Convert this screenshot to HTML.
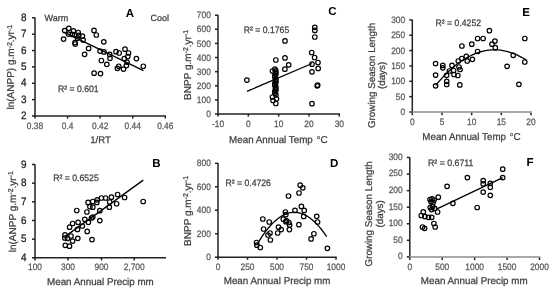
<!DOCTYPE html>
<html><head><meta charset="utf-8"><style>
html,body{margin:0;padding:0;background:#fff;width:550px;height:288px;overflow:hidden}
svg{display:block;font-family:"Liberation Sans", sans-serif;text-rendering:geometricPrecision;filter:grayscale(100%) blur(0.3px)}
</style></head><body>
<svg width="550" height="288" viewBox="0 0 550 288">
<rect width="550" height="288" fill="#fff"/>
<line x1="35" y1="17.6" x2="35" y2="116.75" stroke="#222222" stroke-width="1.5"/>
<line x1="32" y1="17.8" x2="35" y2="17.8" stroke="#222222" stroke-width="1.5"/>
<line x1="32" y1="34.17" x2="35" y2="34.17" stroke="#222222" stroke-width="1.5"/>
<line x1="32" y1="50.53" x2="35" y2="50.53" stroke="#222222" stroke-width="1.5"/>
<line x1="32" y1="66.9" x2="35" y2="66.9" stroke="#222222" stroke-width="1.5"/>
<line x1="32" y1="83.27" x2="35" y2="83.27" stroke="#222222" stroke-width="1.5"/>
<line x1="32" y1="99.63" x2="35" y2="99.63" stroke="#222222" stroke-width="1.5"/>
<line x1="32" y1="116.0" x2="35" y2="116.0" stroke="#222222" stroke-width="1.5"/>
<text x="26.4" y="21.0" font-size="10.8" fill="#1a1a1a" stroke="#1a1a1a" stroke-width="0.25" text-anchor="end" font-weight="normal" textLength="5.52" lengthAdjust="spacingAndGlyphs">8</text>
<text x="26.4" y="37.37" font-size="10.8" fill="#1a1a1a" stroke="#1a1a1a" stroke-width="0.25" text-anchor="end" font-weight="normal" textLength="5.52" lengthAdjust="spacingAndGlyphs">7</text>
<text x="26.4" y="53.73" font-size="10.8" fill="#1a1a1a" stroke="#1a1a1a" stroke-width="0.25" text-anchor="end" font-weight="normal" textLength="5.52" lengthAdjust="spacingAndGlyphs">6</text>
<text x="26.4" y="70.1" font-size="10.8" fill="#1a1a1a" stroke="#1a1a1a" stroke-width="0.25" text-anchor="end" font-weight="normal" textLength="5.52" lengthAdjust="spacingAndGlyphs">5</text>
<text x="26.4" y="86.47" font-size="10.8" fill="#1a1a1a" stroke="#1a1a1a" stroke-width="0.25" text-anchor="end" font-weight="normal" textLength="5.52" lengthAdjust="spacingAndGlyphs">4</text>
<text x="26.4" y="102.83" font-size="10.8" fill="#1a1a1a" stroke="#1a1a1a" stroke-width="0.25" text-anchor="end" font-weight="normal" textLength="5.52" lengthAdjust="spacingAndGlyphs">3</text>
<text x="26.4" y="119.2" font-size="10.8" fill="#1a1a1a" stroke="#1a1a1a" stroke-width="0.25" text-anchor="end" font-weight="normal" textLength="5.52" lengthAdjust="spacingAndGlyphs">2</text>
<line x1="34.25" y1="116" x2="166.05" y2="116" stroke="#222222" stroke-width="1.5"/>
<line x1="35.0" y1="116" x2="35.0" y2="118.6" stroke="#222222" stroke-width="1.5"/>
<line x1="67.58" y1="116" x2="67.58" y2="118.6" stroke="#222222" stroke-width="1.5"/>
<line x1="100.15" y1="116" x2="100.15" y2="118.6" stroke="#222222" stroke-width="1.5"/>
<line x1="132.73" y1="116" x2="132.73" y2="118.6" stroke="#222222" stroke-width="1.5"/>
<line x1="165.3" y1="116" x2="165.3" y2="118.6" stroke="#222222" stroke-width="1.5"/>
<text x="35.0" y="128.9" font-size="9.3" fill="#595959" stroke="#595959" stroke-width="0.25" text-anchor="middle" font-weight="normal" textLength="16.29" lengthAdjust="spacingAndGlyphs">0.38</text>
<text x="67.58" y="128.9" font-size="9.3" fill="#595959" stroke="#595959" stroke-width="0.25" text-anchor="middle" font-weight="normal" textLength="11.63" lengthAdjust="spacingAndGlyphs">0.4</text>
<text x="100.15" y="128.9" font-size="9.3" fill="#595959" stroke="#595959" stroke-width="0.25" text-anchor="middle" font-weight="normal" textLength="16.29" lengthAdjust="spacingAndGlyphs">0.42</text>
<text x="132.73" y="128.9" font-size="9.3" fill="#595959" stroke="#595959" stroke-width="0.25" text-anchor="middle" font-weight="normal" textLength="16.29" lengthAdjust="spacingAndGlyphs">0.44</text>
<text x="165.3" y="128.9" font-size="9.3" fill="#595959" stroke="#595959" stroke-width="0.25" text-anchor="middle" font-weight="normal" textLength="16.29" lengthAdjust="spacingAndGlyphs">0.46</text>
<line x1="35" y1="164.3" x2="35" y2="258.55" stroke="#222222" stroke-width="1.5"/>
<line x1="32" y1="164.5" x2="35" y2="164.5" stroke="#222222" stroke-width="1.5"/>
<line x1="32" y1="183.16" x2="35" y2="183.16" stroke="#222222" stroke-width="1.5"/>
<line x1="32" y1="201.82" x2="35" y2="201.82" stroke="#222222" stroke-width="1.5"/>
<line x1="32" y1="220.48" x2="35" y2="220.48" stroke="#222222" stroke-width="1.5"/>
<line x1="32" y1="239.14" x2="35" y2="239.14" stroke="#222222" stroke-width="1.5"/>
<line x1="32" y1="257.8" x2="35" y2="257.8" stroke="#222222" stroke-width="1.5"/>
<text x="26.4" y="167.7" font-size="10.8" fill="#1a1a1a" stroke="#1a1a1a" stroke-width="0.25" text-anchor="end" font-weight="normal" textLength="5.52" lengthAdjust="spacingAndGlyphs">9</text>
<text x="26.4" y="186.36" font-size="10.8" fill="#1a1a1a" stroke="#1a1a1a" stroke-width="0.25" text-anchor="end" font-weight="normal" textLength="5.52" lengthAdjust="spacingAndGlyphs">8</text>
<text x="26.4" y="205.02" font-size="10.8" fill="#1a1a1a" stroke="#1a1a1a" stroke-width="0.25" text-anchor="end" font-weight="normal" textLength="5.52" lengthAdjust="spacingAndGlyphs">7</text>
<text x="26.4" y="223.68" font-size="10.8" fill="#1a1a1a" stroke="#1a1a1a" stroke-width="0.25" text-anchor="end" font-weight="normal" textLength="5.52" lengthAdjust="spacingAndGlyphs">6</text>
<text x="26.4" y="242.34" font-size="10.8" fill="#1a1a1a" stroke="#1a1a1a" stroke-width="0.25" text-anchor="end" font-weight="normal" textLength="5.52" lengthAdjust="spacingAndGlyphs">5</text>
<text x="26.4" y="261.0" font-size="10.8" fill="#1a1a1a" stroke="#1a1a1a" stroke-width="0.25" text-anchor="end" font-weight="normal" textLength="5.52" lengthAdjust="spacingAndGlyphs">4</text>
<line x1="34.25" y1="257.8" x2="166.05" y2="257.8" stroke="#222222" stroke-width="1.5"/>
<line x1="35" y1="257.8" x2="35" y2="260.40000000000003" stroke="#222222" stroke-width="1.5"/>
<line x1="68" y1="257.8" x2="68" y2="260.40000000000003" stroke="#222222" stroke-width="1.5"/>
<line x1="101.5" y1="257.8" x2="101.5" y2="260.40000000000003" stroke="#222222" stroke-width="1.5"/>
<line x1="134.2" y1="257.8" x2="134.2" y2="260.40000000000003" stroke="#222222" stroke-width="1.5"/>
<text x="35" y="269.8" font-size="9.3" fill="#595959" stroke="#595959" stroke-width="0.25" text-anchor="middle" font-weight="normal" textLength="13.96" lengthAdjust="spacingAndGlyphs">100</text>
<text x="68" y="269.8" font-size="9.3" fill="#595959" stroke="#595959" stroke-width="0.25" text-anchor="middle" font-weight="normal" textLength="13.96" lengthAdjust="spacingAndGlyphs">300</text>
<text x="101.5" y="269.8" font-size="9.3" fill="#595959" stroke="#595959" stroke-width="0.25" text-anchor="middle" font-weight="normal" textLength="13.96" lengthAdjust="spacingAndGlyphs">900</text>
<text x="134.2" y="269.8" font-size="9.3" fill="#595959" stroke="#595959" stroke-width="0.25" text-anchor="middle" font-weight="normal" textLength="20.94" lengthAdjust="spacingAndGlyphs">2,700</text>
<line x1="218" y1="15.0" x2="218" y2="114.75" stroke="#222222" stroke-width="1.5"/>
<line x1="215" y1="15.2" x2="218" y2="15.2" stroke="#222222" stroke-width="1.5"/>
<line x1="215" y1="29.31" x2="218" y2="29.31" stroke="#222222" stroke-width="1.5"/>
<line x1="215" y1="43.43" x2="218" y2="43.43" stroke="#222222" stroke-width="1.5"/>
<line x1="215" y1="57.54" x2="218" y2="57.54" stroke="#222222" stroke-width="1.5"/>
<line x1="215" y1="71.66" x2="218" y2="71.66" stroke="#222222" stroke-width="1.5"/>
<line x1="215" y1="85.77" x2="218" y2="85.77" stroke="#222222" stroke-width="1.5"/>
<line x1="215" y1="99.89" x2="218" y2="99.89" stroke="#222222" stroke-width="1.5"/>
<line x1="215" y1="114.0" x2="218" y2="114.0" stroke="#222222" stroke-width="1.5"/>
<text x="210.8" y="18.3" font-size="9.3" fill="#595959" stroke="#595959" stroke-width="0.25" text-anchor="end" font-weight="normal" textLength="13.96" lengthAdjust="spacingAndGlyphs">700</text>
<text x="210.8" y="32.41" font-size="9.3" fill="#595959" stroke="#595959" stroke-width="0.25" text-anchor="end" font-weight="normal" textLength="13.96" lengthAdjust="spacingAndGlyphs">600</text>
<text x="210.8" y="46.53" font-size="9.3" fill="#595959" stroke="#595959" stroke-width="0.25" text-anchor="end" font-weight="normal" textLength="13.96" lengthAdjust="spacingAndGlyphs">500</text>
<text x="210.8" y="60.64" font-size="9.3" fill="#595959" stroke="#595959" stroke-width="0.25" text-anchor="end" font-weight="normal" textLength="13.96" lengthAdjust="spacingAndGlyphs">400</text>
<text x="210.8" y="74.76" font-size="9.3" fill="#595959" stroke="#595959" stroke-width="0.25" text-anchor="end" font-weight="normal" textLength="13.96" lengthAdjust="spacingAndGlyphs">300</text>
<text x="210.8" y="88.87" font-size="9.3" fill="#595959" stroke="#595959" stroke-width="0.25" text-anchor="end" font-weight="normal" textLength="13.96" lengthAdjust="spacingAndGlyphs">200</text>
<text x="210.8" y="102.99" font-size="9.3" fill="#595959" stroke="#595959" stroke-width="0.25" text-anchor="end" font-weight="normal" textLength="13.96" lengthAdjust="spacingAndGlyphs">100</text>
<text x="210.8" y="117.1" font-size="9.3" fill="#595959" stroke="#595959" stroke-width="0.25" text-anchor="end" font-weight="normal" textLength="4.65" lengthAdjust="spacingAndGlyphs">0</text>
<line x1="217.25" y1="114.0" x2="340.05" y2="114.0" stroke="#222222" stroke-width="1.5"/>
<line x1="218.0" y1="114.0" x2="218.0" y2="116.6" stroke="#222222" stroke-width="1.5"/>
<line x1="248.32" y1="114.0" x2="248.32" y2="116.6" stroke="#222222" stroke-width="1.5"/>
<line x1="278.65" y1="114.0" x2="278.65" y2="116.6" stroke="#222222" stroke-width="1.5"/>
<line x1="308.98" y1="114.0" x2="308.98" y2="116.6" stroke="#222222" stroke-width="1.5"/>
<line x1="339.3" y1="114.0" x2="339.3" y2="116.6" stroke="#222222" stroke-width="1.5"/>
<text x="218.0" y="127.2" font-size="9.3" fill="#595959" stroke="#595959" stroke-width="0.25" text-anchor="middle" font-weight="normal" textLength="12.09" lengthAdjust="spacingAndGlyphs">-10</text>
<text x="248.32" y="127.2" font-size="9.3" fill="#595959" stroke="#595959" stroke-width="0.25" text-anchor="middle" font-weight="normal" textLength="4.65" lengthAdjust="spacingAndGlyphs">0</text>
<text x="278.65" y="127.2" font-size="9.3" fill="#595959" stroke="#595959" stroke-width="0.25" text-anchor="middle" font-weight="normal" textLength="9.31" lengthAdjust="spacingAndGlyphs">10</text>
<text x="308.98" y="127.2" font-size="9.3" fill="#595959" stroke="#595959" stroke-width="0.25" text-anchor="middle" font-weight="normal" textLength="9.31" lengthAdjust="spacingAndGlyphs">20</text>
<text x="339.3" y="127.2" font-size="9.3" fill="#595959" stroke="#595959" stroke-width="0.25" text-anchor="middle" font-weight="normal" textLength="9.31" lengthAdjust="spacingAndGlyphs">30</text>
<line x1="218" y1="163.10000000000002" x2="218" y2="257.95" stroke="#222222" stroke-width="1.5"/>
<line x1="215" y1="163.3" x2="218" y2="163.3" stroke="#222222" stroke-width="1.5"/>
<line x1="215" y1="186.78" x2="218" y2="186.78" stroke="#222222" stroke-width="1.5"/>
<line x1="215" y1="210.25" x2="218" y2="210.25" stroke="#222222" stroke-width="1.5"/>
<line x1="215" y1="233.72" x2="218" y2="233.72" stroke="#222222" stroke-width="1.5"/>
<line x1="215" y1="257.2" x2="218" y2="257.2" stroke="#222222" stroke-width="1.5"/>
<text x="210.8" y="166.4" font-size="9.3" fill="#595959" stroke="#595959" stroke-width="0.25" text-anchor="end" font-weight="normal" textLength="13.96" lengthAdjust="spacingAndGlyphs">800</text>
<text x="210.8" y="189.88" font-size="9.3" fill="#595959" stroke="#595959" stroke-width="0.25" text-anchor="end" font-weight="normal" textLength="13.96" lengthAdjust="spacingAndGlyphs">600</text>
<text x="210.8" y="213.35" font-size="9.3" fill="#595959" stroke="#595959" stroke-width="0.25" text-anchor="end" font-weight="normal" textLength="13.96" lengthAdjust="spacingAndGlyphs">400</text>
<text x="210.8" y="236.82" font-size="9.3" fill="#595959" stroke="#595959" stroke-width="0.25" text-anchor="end" font-weight="normal" textLength="13.96" lengthAdjust="spacingAndGlyphs">200</text>
<text x="210.8" y="260.3" font-size="9.3" fill="#595959" stroke="#595959" stroke-width="0.25" text-anchor="end" font-weight="normal" textLength="4.65" lengthAdjust="spacingAndGlyphs">0</text>
<line x1="217.25" y1="257.2" x2="336.75" y2="257.2" stroke="#222222" stroke-width="1.5"/>
<line x1="218.0" y1="257.2" x2="218.0" y2="259.8" stroke="#222222" stroke-width="1.5"/>
<line x1="247.5" y1="257.2" x2="247.5" y2="259.8" stroke="#222222" stroke-width="1.5"/>
<line x1="277.0" y1="257.2" x2="277.0" y2="259.8" stroke="#222222" stroke-width="1.5"/>
<line x1="306.5" y1="257.2" x2="306.5" y2="259.8" stroke="#222222" stroke-width="1.5"/>
<line x1="336.0" y1="257.2" x2="336.0" y2="259.8" stroke="#222222" stroke-width="1.5"/>
<text x="218.0" y="270.2" font-size="9.3" fill="#595959" stroke="#595959" stroke-width="0.25" text-anchor="middle" font-weight="normal" textLength="4.65" lengthAdjust="spacingAndGlyphs">0</text>
<text x="247.5" y="270.2" font-size="9.3" fill="#595959" stroke="#595959" stroke-width="0.25" text-anchor="middle" font-weight="normal" textLength="13.96" lengthAdjust="spacingAndGlyphs">250</text>
<text x="277.0" y="270.2" font-size="9.3" fill="#595959" stroke="#595959" stroke-width="0.25" text-anchor="middle" font-weight="normal" textLength="13.96" lengthAdjust="spacingAndGlyphs">500</text>
<text x="306.5" y="270.2" font-size="9.3" fill="#595959" stroke="#595959" stroke-width="0.25" text-anchor="middle" font-weight="normal" textLength="13.96" lengthAdjust="spacingAndGlyphs">750</text>
<text x="336.0" y="270.2" font-size="9.3" fill="#595959" stroke="#595959" stroke-width="0.25" text-anchor="middle" font-weight="normal" textLength="18.61" lengthAdjust="spacingAndGlyphs">1000</text>
<line x1="412.3" y1="19.7" x2="412.3" y2="112.75" stroke="#222222" stroke-width="1.5"/>
<line x1="409.3" y1="19.9" x2="412.3" y2="19.9" stroke="#222222" stroke-width="1.5"/>
<line x1="409.3" y1="35.25" x2="412.3" y2="35.25" stroke="#222222" stroke-width="1.5"/>
<line x1="409.3" y1="50.6" x2="412.3" y2="50.6" stroke="#222222" stroke-width="1.5"/>
<line x1="409.3" y1="65.95" x2="412.3" y2="65.95" stroke="#222222" stroke-width="1.5"/>
<line x1="409.3" y1="81.3" x2="412.3" y2="81.3" stroke="#222222" stroke-width="1.5"/>
<line x1="409.3" y1="96.65" x2="412.3" y2="96.65" stroke="#222222" stroke-width="1.5"/>
<line x1="409.3" y1="112.0" x2="412.3" y2="112.0" stroke="#222222" stroke-width="1.5"/>
<text x="405.1" y="23.0" font-size="9.3" fill="#595959" stroke="#595959" stroke-width="0.25" text-anchor="end" font-weight="normal" textLength="13.96" lengthAdjust="spacingAndGlyphs">300</text>
<text x="405.1" y="38.35" font-size="9.3" fill="#595959" stroke="#595959" stroke-width="0.25" text-anchor="end" font-weight="normal" textLength="13.96" lengthAdjust="spacingAndGlyphs">250</text>
<text x="405.1" y="53.7" font-size="9.3" fill="#595959" stroke="#595959" stroke-width="0.25" text-anchor="end" font-weight="normal" textLength="13.96" lengthAdjust="spacingAndGlyphs">200</text>
<text x="405.1" y="69.05" font-size="9.3" fill="#595959" stroke="#595959" stroke-width="0.25" text-anchor="end" font-weight="normal" textLength="13.96" lengthAdjust="spacingAndGlyphs">150</text>
<text x="405.1" y="84.4" font-size="9.3" fill="#595959" stroke="#595959" stroke-width="0.25" text-anchor="end" font-weight="normal" textLength="13.96" lengthAdjust="spacingAndGlyphs">100</text>
<text x="405.1" y="99.75" font-size="9.3" fill="#595959" stroke="#595959" stroke-width="0.25" text-anchor="end" font-weight="normal" textLength="9.31" lengthAdjust="spacingAndGlyphs">50</text>
<text x="405.1" y="115.1" font-size="9.3" fill="#595959" stroke="#595959" stroke-width="0.25" text-anchor="end" font-weight="normal" textLength="4.65" lengthAdjust="spacingAndGlyphs">0</text>
<line x1="411.55" y1="112" x2="531.75" y2="112" stroke="#8c8c8c" stroke-width="1.5"/>
<line x1="412.3" y1="112.75" x2="412.3" y2="115.2" stroke="#222222" stroke-width="1.5"/>
<line x1="441.98" y1="112.75" x2="441.98" y2="115.2" stroke="#222222" stroke-width="1.5"/>
<line x1="471.65" y1="112.75" x2="471.65" y2="115.2" stroke="#222222" stroke-width="1.5"/>
<line x1="501.32" y1="112.75" x2="501.32" y2="115.2" stroke="#222222" stroke-width="1.5"/>
<line x1="531.0" y1="112.75" x2="531.0" y2="115.2" stroke="#222222" stroke-width="1.5"/>
<text x="412.3" y="125.4" font-size="9.3" fill="#595959" stroke="#595959" stroke-width="0.25" text-anchor="middle" font-weight="normal" textLength="4.65" lengthAdjust="spacingAndGlyphs">0</text>
<text x="441.98" y="125.4" font-size="9.3" fill="#595959" stroke="#595959" stroke-width="0.25" text-anchor="middle" font-weight="normal" textLength="4.65" lengthAdjust="spacingAndGlyphs">5</text>
<text x="471.65" y="125.4" font-size="9.3" fill="#595959" stroke="#595959" stroke-width="0.25" text-anchor="middle" font-weight="normal" textLength="9.31" lengthAdjust="spacingAndGlyphs">10</text>
<text x="501.32" y="125.4" font-size="9.3" fill="#595959" stroke="#595959" stroke-width="0.25" text-anchor="middle" font-weight="normal" textLength="9.31" lengthAdjust="spacingAndGlyphs">15</text>
<text x="531.0" y="125.4" font-size="9.3" fill="#595959" stroke="#595959" stroke-width="0.25" text-anchor="middle" font-weight="normal" textLength="9.31" lengthAdjust="spacingAndGlyphs">20</text>
<line x1="409.8" y1="157.3" x2="409.8" y2="257.65" stroke="#222222" stroke-width="1.5"/>
<line x1="406.8" y1="157.5" x2="409.8" y2="157.5" stroke="#222222" stroke-width="1.5"/>
<line x1="406.8" y1="174.07" x2="409.8" y2="174.07" stroke="#222222" stroke-width="1.5"/>
<line x1="406.8" y1="190.63" x2="409.8" y2="190.63" stroke="#222222" stroke-width="1.5"/>
<line x1="406.8" y1="207.2" x2="409.8" y2="207.2" stroke="#222222" stroke-width="1.5"/>
<line x1="406.8" y1="223.77" x2="409.8" y2="223.77" stroke="#222222" stroke-width="1.5"/>
<line x1="406.8" y1="240.33" x2="409.8" y2="240.33" stroke="#222222" stroke-width="1.5"/>
<line x1="406.8" y1="256.9" x2="409.8" y2="256.9" stroke="#222222" stroke-width="1.5"/>
<text x="402.6" y="159.9" font-size="9.3" fill="#595959" stroke="#595959" stroke-width="0.25" text-anchor="end" font-weight="normal" textLength="13.96" lengthAdjust="spacingAndGlyphs">300</text>
<text x="402.6" y="176.47" font-size="9.3" fill="#595959" stroke="#595959" stroke-width="0.25" text-anchor="end" font-weight="normal" textLength="13.96" lengthAdjust="spacingAndGlyphs">250</text>
<text x="402.6" y="193.03" font-size="9.3" fill="#595959" stroke="#595959" stroke-width="0.25" text-anchor="end" font-weight="normal" textLength="13.96" lengthAdjust="spacingAndGlyphs">200</text>
<text x="402.6" y="209.6" font-size="9.3" fill="#595959" stroke="#595959" stroke-width="0.25" text-anchor="end" font-weight="normal" textLength="13.96" lengthAdjust="spacingAndGlyphs">150</text>
<text x="402.6" y="226.17" font-size="9.3" fill="#595959" stroke="#595959" stroke-width="0.25" text-anchor="end" font-weight="normal" textLength="13.96" lengthAdjust="spacingAndGlyphs">100</text>
<text x="402.6" y="242.73" font-size="9.3" fill="#595959" stroke="#595959" stroke-width="0.25" text-anchor="end" font-weight="normal" textLength="9.31" lengthAdjust="spacingAndGlyphs">50</text>
<text x="402.6" y="259.3" font-size="9.3" fill="#595959" stroke="#595959" stroke-width="0.25" text-anchor="end" font-weight="normal" textLength="4.65" lengthAdjust="spacingAndGlyphs">0</text>
<line x1="409.05" y1="256.9" x2="540.25" y2="256.9" stroke="#8c8c8c" stroke-width="1.5"/>
<line x1="409.8" y1="257.65" x2="409.8" y2="260.09999999999997" stroke="#222222" stroke-width="1.5"/>
<line x1="442.23" y1="257.65" x2="442.23" y2="260.09999999999997" stroke="#222222" stroke-width="1.5"/>
<line x1="474.65" y1="257.65" x2="474.65" y2="260.09999999999997" stroke="#222222" stroke-width="1.5"/>
<line x1="507.07" y1="257.65" x2="507.07" y2="260.09999999999997" stroke="#222222" stroke-width="1.5"/>
<line x1="539.5" y1="257.65" x2="539.5" y2="260.09999999999997" stroke="#222222" stroke-width="1.5"/>
<text x="409.8" y="270.4" font-size="9.3" fill="#595959" stroke="#595959" stroke-width="0.25" text-anchor="middle" font-weight="normal" textLength="4.65" lengthAdjust="spacingAndGlyphs">0</text>
<text x="442.23" y="270.4" font-size="9.3" fill="#595959" stroke="#595959" stroke-width="0.25" text-anchor="middle" font-weight="normal" textLength="13.96" lengthAdjust="spacingAndGlyphs">500</text>
<text x="474.65" y="270.4" font-size="9.3" fill="#595959" stroke="#595959" stroke-width="0.25" text-anchor="middle" font-weight="normal" textLength="18.61" lengthAdjust="spacingAndGlyphs">1000</text>
<text x="507.07" y="270.4" font-size="9.3" fill="#595959" stroke="#595959" stroke-width="0.25" text-anchor="middle" font-weight="normal" textLength="18.61" lengthAdjust="spacingAndGlyphs">1500</text>
<text x="539.5" y="270.4" font-size="9.3" fill="#595959" stroke="#595959" stroke-width="0.25" text-anchor="middle" font-weight="normal" textLength="18.61" lengthAdjust="spacingAndGlyphs">2000</text>
<text x="100.5" y="143.0" font-size="9.6" fill="#404040" stroke="#404040" stroke-width="0.25" text-anchor="middle" font-weight="normal" >1/RT</text>
<text x="422.3" y="140.0" font-size="10" fill="#404040" stroke="#404040" stroke-width="0.25" text-anchor="start" font-weight="normal" textLength="83.7" lengthAdjust="spacingAndGlyphs">Mean Annual Temp</text>
<text x="510.1" y="136.4" font-size="5.2" fill="#404040" stroke="#404040" stroke-width="0.25" text-anchor="start" font-weight="normal" >o</text>
<text x="513.6" y="140.0" font-size="10" fill="#404040" stroke="#404040" stroke-width="0.25" text-anchor="start" font-weight="normal" >C</text>
<text x="229.1" y="142.6" font-size="10" fill="#404040" stroke="#404040" stroke-width="0.25" text-anchor="start" font-weight="normal" textLength="83.7" lengthAdjust="spacingAndGlyphs">Mean Annual Temp</text>
<text x="316.9" y="139.0" font-size="5.2" fill="#404040" stroke="#404040" stroke-width="0.25" text-anchor="start" font-weight="normal" >o</text>
<text x="320.4" y="142.6" font-size="10" fill="#404040" stroke="#404040" stroke-width="0.25" text-anchor="start" font-weight="normal" >C</text>
<text x="100.4" y="284.8" font-size="9.8" fill="#404040" stroke="#404040" stroke-width="0.25" text-anchor="middle" font-weight="normal" >Mean Annual Precip mm</text>
<text x="277.1" y="284.2" font-size="9.8" fill="#404040" stroke="#404040" stroke-width="0.25" text-anchor="middle" font-weight="normal" >Mean Annual Precip mm</text>
<text x="474.2" y="284.1" font-size="9.8" fill="#404040" stroke="#404040" stroke-width="0.25" text-anchor="middle" font-weight="normal" >Mean Annual Precip mm</text>
<text transform="translate(14.1,67.2) rotate(-90)" x="0" y="0" font-size="10" fill="#404040" stroke="#404040" stroke-width="0.25" text-anchor="middle">ln(ANPP) g.m<tspan font-size="7.0" dy="-2.5">-2</tspan><tspan dy="2.5">.yr</tspan><tspan font-size="7.0" dy="-2.5">-1</tspan><tspan dy="2.5"></tspan></text>
<text transform="translate(15.7,211.7) rotate(-90)" x="0" y="0" font-size="10" fill="#404040" stroke="#404040" stroke-width="0.25" text-anchor="middle">ln(ANPP g.m<tspan font-size="7.0" dy="-2.5">-2</tspan><tspan dy="2.5">.yr</tspan><tspan font-size="7.0" dy="-2.5">-1</tspan><tspan dy="2.5"></tspan></text>
<text transform="translate(190.6,64.85) rotate(-90)" x="0" y="0" font-size="10" fill="#404040" stroke="#404040" stroke-width="0.25" text-anchor="middle">BNPP g.m<tspan font-size="7.0" dy="-2.5">-2</tspan><tspan dy="2.5">.yr</tspan><tspan font-size="7.0" dy="-2.5">-1</tspan><tspan dy="2.5"></tspan></text>
<text transform="translate(190.6,210.85) rotate(-90)" x="0" y="0" font-size="10" fill="#404040" stroke="#404040" stroke-width="0.25" text-anchor="middle">BNPP g.m<tspan font-size="7.0" dy="-2.5">-2</tspan><tspan dy="2.5">.yr</tspan><tspan font-size="7.0" dy="-2.5">-1</tspan><tspan dy="2.5"></tspan></text>
<text transform="translate(374.5,75.45) rotate(-90)" x="0" y="0" font-size="9.8" fill="#404040" stroke="#404040" stroke-width="0.25" text-anchor="middle">Growing Season Length</text>
<text transform="translate(385.2,75.45) rotate(-90)" x="0" y="0" font-size="9.8" fill="#404040" stroke="#404040" stroke-width="0.25" text-anchor="middle">(days)</text>
<text transform="translate(372.1,213.9) rotate(-90)" x="0" y="0" font-size="9.8" fill="#404040" stroke="#404040" stroke-width="0.25" text-anchor="middle">Growing Season Length</text>
<text transform="translate(382.9,213.9) rotate(-90)" x="0" y="0" font-size="9.8" fill="#404040" stroke="#404040" stroke-width="0.25" text-anchor="middle">(days)</text>
<text x="130" y="17.3" font-size="11.5" fill="#000" text-anchor="middle" font-weight="bold" >A</text>
<text x="156.5" y="166.8" font-size="11.5" fill="#000" text-anchor="middle" font-weight="bold" >B</text>
<text x="332.3" y="15.2" font-size="11.5" fill="#000" text-anchor="middle" font-weight="bold" >C</text>
<text x="334.2" y="166.8" font-size="11.5" fill="#000" text-anchor="middle" font-weight="bold" >D</text>
<text x="526" y="16.3" font-size="11.5" fill="#000" text-anchor="middle" font-weight="bold" >E</text>
<text x="530" y="166.0" font-size="11.5" fill="#000" text-anchor="middle" font-weight="bold" >F</text>
<text x="44.5" y="20.5" font-size="9" fill="#404040" stroke="#404040" stroke-width="0.25" text-anchor="start" font-weight="normal" >Warm</text>
<text x="150.6" y="20.7" font-size="9" fill="#404040" stroke="#404040" stroke-width="0.25" text-anchor="start" font-weight="normal" >Cool</text>
<text x="58" y="92.2" font-size="9.3" fill="#404040" stroke="#404040" stroke-width="0.25" text-anchor="start" font-weight="normal" textLength="40.62" lengthAdjust="spacingAndGlyphs">R² = 0.601</text>
<text x="53.3" y="181.2" font-size="9.3" fill="#404040" stroke="#404040" stroke-width="0.25" text-anchor="start" font-weight="normal" textLength="45.43" lengthAdjust="spacingAndGlyphs">R² = 0.6525</text>
<text x="243.8" y="32.8" font-size="9.3" fill="#404040" stroke="#404040" stroke-width="0.25" text-anchor="start" font-weight="normal" textLength="45.43" lengthAdjust="spacingAndGlyphs">R² = 0.1765</text>
<text x="225.5" y="186.4" font-size="9.3" fill="#404040" stroke="#404040" stroke-width="0.25" text-anchor="start" font-weight="normal" textLength="45.43" lengthAdjust="spacingAndGlyphs">R² = 0.4726</text>
<text x="435.6" y="26.2" font-size="9.3" fill="#404040" stroke="#404040" stroke-width="0.25" text-anchor="start" font-weight="normal" textLength="45.43" lengthAdjust="spacingAndGlyphs">R² = 0.4252</text>
<text x="428" y="166" font-size="9.3" fill="#404040" stroke="#404040" stroke-width="0.25" text-anchor="start" font-weight="normal" textLength="45.43" lengthAdjust="spacingAndGlyphs">R² = 0.6711</text>
<line x1="64" y1="32.2" x2="143.5" y2="70.6" stroke="#000" stroke-width="1.3"/>
<line x1="65" y1="236.6" x2="143.3" y2="180.1" stroke="#000" stroke-width="1.3"/>
<line x1="247" y1="91.4" x2="312" y2="63.5" stroke="#000" stroke-width="1.3"/>
<line x1="436" y1="209.3" x2="502.7" y2="177.6" stroke="#000" stroke-width="1.3"/>
<path d="M435.70,85.32 L438.02,82.58 L440.34,79.94 L442.66,77.42 L444.98,75.00 L447.30,72.70 L449.62,70.51 L451.94,68.42 L454.26,66.45 L456.58,64.59 L458.91,62.84 L461.23,61.20 L463.55,59.67 L465.87,58.25 L468.19,56.94 L470.51,55.74 L472.83,54.65 L475.15,53.67 L477.47,52.81 L479.79,52.05 L482.11,51.40 L484.43,50.87 L486.75,50.44 L489.07,50.13 L491.39,49.92 L493.71,49.83 L496.03,49.84 L498.35,49.97 L500.67,50.21 L502.99,50.55 L505.32,51.01 L507.64,51.58 L509.96,52.26 L512.28,53.05 L514.60,53.95 L516.92,54.96 L519.24,56.08 L521.56,57.31 L523.88,58.65 L526.20,60.11" fill="none" stroke="#000" stroke-width="1.3"/>
<path d="M256.90,244.90 L258.69,241.86 L260.48,238.96 L262.27,236.22 L264.06,233.63 L265.85,231.18 L267.64,228.88 L269.43,226.74 L271.22,224.74 L273.01,222.89 L274.80,221.19 L276.59,219.64 L278.38,218.23 L280.17,216.98 L281.96,215.87 L283.75,214.92 L285.54,214.11 L287.33,213.46 L289.12,212.95 L290.91,212.59 L292.69,212.38 L294.48,212.31 L296.27,212.40 L298.06,212.64 L299.85,213.02 L301.64,213.56 L303.43,214.24 L305.22,215.07 L307.01,216.06 L308.80,217.19 L310.59,218.46 L312.38,219.89 L314.17,221.47 L315.96,223.20 L317.75,225.07 L319.54,227.10 L321.33,229.27 L323.12,231.59 L324.91,234.06 L326.70,236.68" fill="none" stroke="#000" stroke-width="1.3"/>
<g fill="none" stroke="#000" stroke-width="1.2">
<circle cx="64.7" cy="30.6" r="2.25"/>
<circle cx="68.8" cy="28.3" r="2.25"/>
<circle cx="73.4" cy="30.9" r="2.25"/>
<circle cx="68.5" cy="34.1" r="2.25"/>
<circle cx="72.3" cy="34.4" r="2.25"/>
<circle cx="74.75" cy="34.8" r="2.25"/>
<circle cx="78.2" cy="32.5" r="2.25"/>
<circle cx="77.5" cy="38.2" r="2.25"/>
<circle cx="82.4" cy="36.2" r="2.25"/>
<circle cx="83.1" cy="40" r="2.25"/>
<circle cx="75" cy="42.6" r="2.25"/>
<circle cx="75.2" cy="44" r="2.25"/>
<circle cx="63.6" cy="39.1" r="2.25"/>
<circle cx="78.75" cy="35.4" r="2.25"/>
<circle cx="94" cy="30.4" r="2.25"/>
<circle cx="96.3" cy="35" r="2.25"/>
<circle cx="103.8" cy="41.8" r="2.25"/>
<circle cx="88.6" cy="48.4" r="2.25"/>
<circle cx="84.6" cy="54.3" r="2.25"/>
<circle cx="100.1" cy="51.1" r="2.25"/>
<circle cx="104" cy="51.9" r="2.25"/>
<circle cx="101.4" cy="60.5" r="2.25"/>
<circle cx="109.7" cy="54.4" r="2.25"/>
<circle cx="110" cy="58.3" r="2.25"/>
<circle cx="106.8" cy="64.3" r="2.25"/>
<circle cx="116" cy="51.7" r="2.25"/>
<circle cx="119.2" cy="53" r="2.25"/>
<circle cx="125" cy="49.2" r="2.25"/>
<circle cx="128.5" cy="53" r="2.25"/>
<circle cx="127.8" cy="56.5" r="2.25"/>
<circle cx="124.3" cy="58.6" r="2.25"/>
<circle cx="127" cy="62.1" r="2.25"/>
<circle cx="126.4" cy="65.6" r="2.25"/>
<circle cx="118.75" cy="66.25" r="2.25"/>
<circle cx="117.4" cy="68.3" r="2.25"/>
<circle cx="123.5" cy="69.1" r="2.25"/>
<circle cx="136.4" cy="58.6" r="2.25"/>
<circle cx="143.3" cy="66.25" r="2.25"/>
<circle cx="94.1" cy="73.2" r="2.25"/>
<circle cx="100.5" cy="73.6" r="2.25"/>
<circle cx="65" cy="234.9" r="2.25"/>
<circle cx="64.8" cy="238" r="2.25"/>
<circle cx="67.4" cy="238.5" r="2.25"/>
<circle cx="71" cy="236" r="2.25"/>
<circle cx="72.6" cy="241.1" r="2.25"/>
<circle cx="77.8" cy="238.3" r="2.25"/>
<circle cx="65.3" cy="245.3" r="2.25"/>
<circle cx="69.5" cy="246.2" r="2.25"/>
<circle cx="69.6" cy="227.2" r="2.25"/>
<circle cx="72.6" cy="223.5" r="2.25"/>
<circle cx="77.5" cy="229.4" r="2.25"/>
<circle cx="78.1" cy="222.3" r="2.25"/>
<circle cx="82.3" cy="226" r="2.25"/>
<circle cx="84.8" cy="219.3" r="2.25"/>
<circle cx="88.4" cy="222.3" r="2.25"/>
<circle cx="91.5" cy="218" r="2.25"/>
<circle cx="87.2" cy="231.4" r="2.25"/>
<circle cx="92" cy="239.6" r="2.25"/>
<circle cx="76.75" cy="210.5" r="2.25"/>
<circle cx="86.9" cy="212" r="2.25"/>
<circle cx="88.1" cy="202.4" r="2.25"/>
<circle cx="92.8" cy="201.5" r="2.25"/>
<circle cx="89.9" cy="206.7" r="2.25"/>
<circle cx="92.8" cy="207.2" r="2.25"/>
<circle cx="97.2" cy="199.8" r="2.25"/>
<circle cx="96.8" cy="202.4" r="2.25"/>
<circle cx="101.5" cy="198" r="2.25"/>
<circle cx="105.5" cy="198" r="2.25"/>
<circle cx="111.4" cy="197.2" r="2.25"/>
<circle cx="117.6" cy="194.5" r="2.25"/>
<circle cx="124.6" cy="197.5" r="2.25"/>
<circle cx="109.7" cy="202" r="2.25"/>
<circle cx="116.6" cy="203.75" r="2.25"/>
<circle cx="109.3" cy="207.2" r="2.25"/>
<circle cx="99.8" cy="210.7" r="2.25"/>
<circle cx="99.8" cy="220.6" r="2.25"/>
<circle cx="92.8" cy="217.1" r="2.25"/>
<circle cx="143.2" cy="201.5" r="2.25"/>
<circle cx="246.9" cy="80.1" r="2.25"/>
<circle cx="275.8" cy="60" r="2.25"/>
<circle cx="285" cy="57.9" r="2.25"/>
<circle cx="288.7" cy="64.8" r="2.25"/>
<circle cx="284.9" cy="69.2" r="2.25"/>
<circle cx="285" cy="40.9" r="2.25"/>
<circle cx="274.9" cy="69.2" r="2.25"/>
<circle cx="275.9" cy="70.8" r="2.25"/>
<circle cx="275.4" cy="72.4" r="2.25"/>
<circle cx="276.0" cy="74.0" r="2.25"/>
<circle cx="274.79999999999995" cy="75.60000000000001" r="2.25"/>
<circle cx="274.9" cy="77.2" r="2.25"/>
<circle cx="275.9" cy="78.80000000000001" r="2.25"/>
<circle cx="275.4" cy="80.4" r="2.25"/>
<circle cx="276.0" cy="82.0" r="2.25"/>
<circle cx="274.79999999999995" cy="83.60000000000001" r="2.25"/>
<circle cx="274.9" cy="85.2" r="2.25"/>
<circle cx="275.9" cy="86.80000000000001" r="2.25"/>
<circle cx="275.4" cy="88.4" r="2.25"/>
<circle cx="276.0" cy="90.0" r="2.25"/>
<circle cx="274.79999999999995" cy="91.60000000000001" r="2.25"/>
<circle cx="274.9" cy="93.2" r="2.25"/>
<circle cx="275.9" cy="94.80000000000001" r="2.25"/>
<circle cx="272.5" cy="71" r="2.25"/>
<circle cx="272.5" cy="97" r="2.25"/>
<circle cx="273" cy="100.5" r="2.25"/>
<circle cx="275.8" cy="103.5" r="2.25"/>
<circle cx="276.5" cy="98.8" r="2.25"/>
<circle cx="314.8" cy="27.3" r="2.25"/>
<circle cx="314.8" cy="30.4" r="2.25"/>
<circle cx="314.8" cy="37" r="2.25"/>
<circle cx="311.7" cy="52.5" r="2.25"/>
<circle cx="314.6" cy="57.5" r="2.25"/>
<circle cx="318" cy="62.5" r="2.25"/>
<circle cx="312" cy="64.2" r="2.25"/>
<circle cx="318.2" cy="68.4" r="2.25"/>
<circle cx="312" cy="71.8" r="2.25"/>
<circle cx="317.7" cy="85.2" r="2.25"/>
<circle cx="317.2" cy="85.8" r="2.25"/>
<circle cx="312" cy="103.7" r="2.25"/>
<circle cx="256.5" cy="242.5" r="2.25"/>
<circle cx="256.9" cy="245.2" r="2.25"/>
<circle cx="260.3" cy="247.5" r="2.25"/>
<circle cx="262.8" cy="219" r="2.25"/>
<circle cx="269.2" cy="222" r="2.25"/>
<circle cx="263.6" cy="229" r="2.25"/>
<circle cx="270" cy="233" r="2.25"/>
<circle cx="268" cy="235" r="2.25"/>
<circle cx="270.4" cy="240" r="2.25"/>
<circle cx="278.5" cy="227.2" r="2.25"/>
<circle cx="281.2" cy="229.6" r="2.25"/>
<circle cx="277.7" cy="233" r="2.25"/>
<circle cx="285.4" cy="212" r="2.25"/>
<circle cx="285.8" cy="214.7" r="2.25"/>
<circle cx="283.3" cy="219.2" r="2.25"/>
<circle cx="286.6" cy="220.8" r="2.25"/>
<circle cx="285.8" cy="221.7" r="2.25"/>
<circle cx="288.9" cy="222.5" r="2.25"/>
<circle cx="289.6" cy="225" r="2.25"/>
<circle cx="289.4" cy="229.6" r="2.25"/>
<circle cx="300.2" cy="185.2" r="2.25"/>
<circle cx="302.8" cy="187.8" r="2.25"/>
<circle cx="299" cy="193" r="2.25"/>
<circle cx="288.5" cy="196" r="2.25"/>
<circle cx="301.4" cy="206.4" r="2.25"/>
<circle cx="304.2" cy="210.4" r="2.25"/>
<circle cx="303.7" cy="216.4" r="2.25"/>
<circle cx="295" cy="210.4" r="2.25"/>
<circle cx="298.9" cy="224.7" r="2.25"/>
<circle cx="316.7" cy="216.3" r="2.25"/>
<circle cx="317.6" cy="222" r="2.25"/>
<circle cx="313.9" cy="233.75" r="2.25"/>
<circle cx="311.1" cy="238.9" r="2.25"/>
<circle cx="327.4" cy="248.3" r="2.25"/>
<circle cx="435.6" cy="63.6" r="2.25"/>
<circle cx="435.6" cy="75.1" r="2.25"/>
<circle cx="435.6" cy="85.8" r="2.25"/>
<circle cx="442.8" cy="65.4" r="2.25"/>
<circle cx="442.8" cy="67.8" r="2.25"/>
<circle cx="446.6" cy="75.3" r="2.25"/>
<circle cx="446.7" cy="81.3" r="2.25"/>
<circle cx="446.7" cy="84.5" r="2.25"/>
<circle cx="452" cy="65.4" r="2.25"/>
<circle cx="449.4" cy="71" r="2.25"/>
<circle cx="453.6" cy="70.5" r="2.25"/>
<circle cx="454" cy="74.5" r="2.25"/>
<circle cx="457.8" cy="75.5" r="2.25"/>
<circle cx="459" cy="67" r="2.25"/>
<circle cx="460" cy="69.5" r="2.25"/>
<circle cx="458.3" cy="61" r="2.25"/>
<circle cx="461.8" cy="58.5" r="2.25"/>
<circle cx="466.3" cy="56.4" r="2.25"/>
<circle cx="467.2" cy="61" r="2.25"/>
<circle cx="472.4" cy="59.3" r="2.25"/>
<circle cx="459.8" cy="84.9" r="2.25"/>
<circle cx="461.9" cy="46" r="2.25"/>
<circle cx="471.8" cy="44.2" r="2.25"/>
<circle cx="477.6" cy="38.5" r="2.25"/>
<circle cx="483.1" cy="38.5" r="2.25"/>
<circle cx="489.4" cy="30.7" r="2.25"/>
<circle cx="494.9" cy="41.1" r="2.25"/>
<circle cx="492" cy="44.2" r="2.25"/>
<circle cx="495.3" cy="47.7" r="2.25"/>
<circle cx="477.6" cy="51.5" r="2.25"/>
<circle cx="513.2" cy="55.3" r="2.25"/>
<circle cx="524.8" cy="38.5" r="2.25"/>
<circle cx="524.8" cy="62" r="2.25"/>
<circle cx="507.1" cy="66.3" r="2.25"/>
<circle cx="518.9" cy="84.3" r="2.25"/>
<circle cx="438.3" cy="197.2" r="2.25"/>
<circle cx="430" cy="199.5" r="2.25"/>
<circle cx="432" cy="198.8" r="2.25"/>
<circle cx="434" cy="200" r="2.25"/>
<circle cx="431" cy="201.8" r="2.25"/>
<circle cx="433.2" cy="202.3" r="2.25"/>
<circle cx="430.2" cy="207.6" r="2.25"/>
<circle cx="432.6" cy="206.6" r="2.25"/>
<circle cx="434.6" cy="208.4" r="2.25"/>
<circle cx="431.6" cy="209.6" r="2.25"/>
<circle cx="437.6" cy="212" r="2.25"/>
<circle cx="423.3" cy="211.9" r="2.25"/>
<circle cx="421.25" cy="215.5" r="2.25"/>
<circle cx="424.9" cy="216.6" r="2.25"/>
<circle cx="428.5" cy="217.3" r="2.25"/>
<circle cx="431.7" cy="217.3" r="2.25"/>
<circle cx="433.9" cy="223.5" r="2.25"/>
<circle cx="435.2" cy="227" r="2.25"/>
<circle cx="422.5" cy="227" r="2.25"/>
<circle cx="424.6" cy="228.3" r="2.25"/>
<circle cx="452.9" cy="203.3" r="2.25"/>
<circle cx="477.2" cy="207.5" r="2.25"/>
<circle cx="467.4" cy="177.6" r="2.25"/>
<circle cx="483.2" cy="180.6" r="2.25"/>
<circle cx="483.2" cy="183.9" r="2.25"/>
<circle cx="490.3" cy="183.3" r="2.25"/>
<circle cx="490.3" cy="187.3" r="2.25"/>
<circle cx="483.2" cy="192.1" r="2.25"/>
<circle cx="490.3" cy="195.3" r="2.25"/>
<circle cx="502.7" cy="169.2" r="2.25"/>
<circle cx="502.7" cy="177.6" r="2.25"/>
<circle cx="447.1" cy="186.3" r="2.25"/>
</g>
</svg>
</body></html>
